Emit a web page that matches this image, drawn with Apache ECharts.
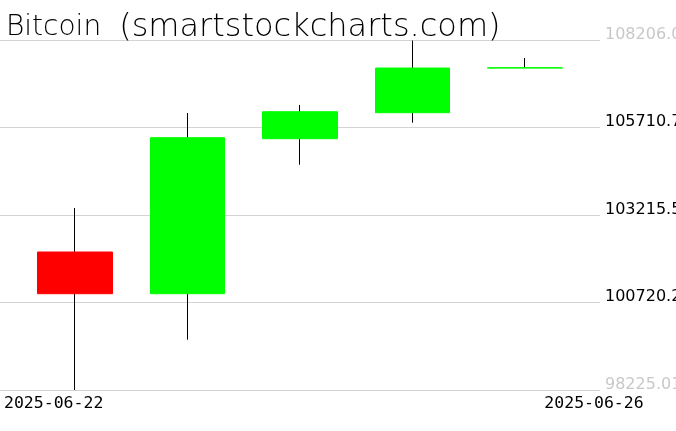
<!DOCTYPE html>
<html>
<head>
<meta charset="utf-8">
<script src="https://cdn.jsdelivr.net/npm/echarts@6/dist/echarts.min.js"></script>
<style>
  html, body { margin: 0; padding: 0; background: #fff; }
  #chart { width: 676px; height: 431px; }
</style>
</head>
<body>
<div id="chart"></div>
<script>
// daily candles
const dates = ['2025-06-22', '2025-06-23', '2025-06-24', '2025-06-25', '2025-06-26'];
const opens = [102160, 100971, 105391, 106133, 107405];
const closes = [100971, 105420, 106161, 107407, 107416];
const lows = [98225.01, 99660, 104650, 105848, 107405];
const highs = [103415, 106124, 106352, 108190, 107693];

// price scale tick labels (bottom to top)
const yTicks = ['98225.01', '100720.2', '103215.5', '105710.7', '108206.0'];

const FONT = 'DejaVu Sans';
const MONO = 'DejaVu Sans Mono';

const chart = echarts.init(document.getElementById('chart'));

// wick: black line from low to high
const wickData = dates.map((d, i) => [opens[i], closes[i], lows[i], highs[i]]);
// body only: wick collapsed to the body
const bodyData = dates.map((d, i) => [
  opens[i], closes[i],
  Math.min(opens[i], closes[i]), Math.max(opens[i], closes[i])
]);

const yMin = parseFloat(yTicks[0]);
const yMax = parseFloat(yTicks[yTicks.length - 1]);

chart.setOption({
  animation: false,
  backgroundColor: '#fff',
  title: {
    text: '{a|Bitcoin} {b|(smartstockcharts.com)}',
    left: 1,
    top: 7,
    textStyle: {
      fontWeight: 200,
      rich: {
        a: { fontFamily: FONT, fontWeight: 200, fontSize: 28, color: '#000', padding: [0, 13, 0, 0] },
        b: { fontFamily: FONT, fontWeight: 200, fontSize: 32, color: '#000' }
      }
    }
  },
  grid: [
    // candles
    { left: 19, right: 95, top: 40, bottom: 41, outerBoundsMode: 'none' },
    // grid lines and labels
    { left: 0, right: 76, top: 40, bottom: 41, outerBoundsMode: 'none' }
  ],
  xAxis: [
    {
      type: 'category', gridIndex: 0, data: dates, boundaryGap: true,
      axisLine: { show: false }, axisTick: { show: false }, axisLabel: { show: false }
    },
    {
      type: 'category', gridIndex: 1, boundaryGap: false,
      data: [dates[0], dates[dates.length - 1]],
      axisLine: { show: false }, axisTick: { show: false },
      axisLabel: {
        show: true, interval: 0, margin: 5,
        fontFamily: MONO, fontSize: 16.5, color: '#000',
        alignMinLabel: 'left', alignMaxLabel: 'center',
        formatter: (v, i) => i === 0 ? '{a|' + v + '}' : '{b|' + v + '}',
        rich: {
          a: { fontFamily: MONO, fontSize: 16.5, color: '#000', padding: [0, 0, 0, 4] },
          b: { fontFamily: MONO, fontSize: 16.5, color: '#000', padding: [0, 12, 0, 0] }
        }
      }
    }
  ],
  yAxis: [
    {
      type: 'value', gridIndex: 0, min: yMin, max: yMax, scale: true,
      axisLine: { show: false }, axisTick: { show: false },
      axisLabel: { show: false }, splitLine: { show: false }
    },
    {
      type: 'value', gridIndex: 1, position: 'right',
      min: 0, max: yTicks.length - 1, interval: 1,
      axisLine: { show: false }, axisTick: { show: false },
      splitLine: { show: true, lineStyle: { color: '#d3d3d3', width: 1 } },
      axisLabel: {
        margin: 5, verticalAlign: 'bottom', lineHeight: 11,
        fontFamily: FONT, fontSize: 16,
        formatter: v => yTicks[v],
        color: (v) => {
          const n = Number(v);
          return (n === 0 || n === yTicks.length - 1) ? '#c8c8c8' : '#000';
        }
      }
    }
  ],
  series: [
    {
      type: 'candlestick', xAxisIndex: 0, yAxisIndex: 0,
      data: wickData, barWidth: 1,
      itemStyle: { color: '#000', color0: '#000', borderColor: '#000', borderColor0: '#000', borderWidth: 1 }
    },
    {
      type: 'candlestick', xAxisIndex: 0, yAxisIndex: 0,
      data: bodyData, barWidth: 75, z: 3,
      itemStyle: { color: '#00ff00', color0: '#ff0000', borderColor: '#00ff00', borderColor0: '#ff0000', borderWidth: 1 }
    }
  ]
});
</script>
</body>
</html>
